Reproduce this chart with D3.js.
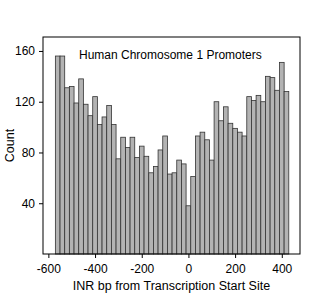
<!DOCTYPE html>
<html><head><meta charset="utf-8">
<script src="https://cdn.jsdelivr.net/npm/d3@7"></script>
<style>body{margin:0;background:#fff}svg{display:block}text{font-family:"Liberation Sans",Arial,sans-serif;fill:#000}</style>
</head><body><svg id="c" width="320" height="302"></svg>
<script>
const binCenters = d3.range(-560, 421, 20);
const counts = [156,156,131,132,119,138,118,109,124,102,108,117,102,75,92,84,92,76,85,77,64,69,82,93,63,64,74,71,38,61,93,96,90,74,120,105,116,103,99,96,93,124,121,125,120,140,139,129,151,128];
const binWidth = 20;
const xTicks = [-600,-400,-200,0,200,400];
const yTicks = [40,80,120,160];
const title = "Human Chromosome 1 Promoters";
const xTitle = "INR bp from Transcription Start Site";
const yTitle = "Count";

const svg = d3.select("#c");
const m = {l:43, r:300, t:37, b:254};
const x = d3.scaleLinear().domain([-623, 478]).range([m.l, m.r]);
const y = d3.scaleLinear().domain([0, 171]).range([m.b, m.t]);

svg.append("g").selectAll("rect").data(binCenters).join("rect")
  .attr("x", (d)=>x(d - binWidth/2))
  .attr("width", (d)=>x(d + binWidth/2) - x(d - binWidth/2))
  .attr("y", (d,i)=>y(counts[i]))
  .attr("height", (d,i)=>y(0) - y(counts[i]))
  .attr("fill", "#b3b3b3").attr("stroke", "#333").attr("stroke-width", 0.8);

svg.append("rect").attr("x", m.l).attr("y", m.t).attr("width", m.r-m.l).attr("height", m.b-m.t)
  .attr("fill","none").attr("stroke","#000").attr("stroke-width",1);

const xa = svg.append("g").attr("transform", `translate(0,${m.b})`)
  .call(d3.axisBottom(x).tickValues(xTicks).tickSize(4).tickPadding(6).tickFormat(d3.format("d")));
const ya = svg.append("g").attr("transform", `translate(${m.l},0)`)
  .call(d3.axisLeft(y).tickValues(yTicks).tickSize(4).tickPadding(4));
[xa, ya].forEach(a => {
  a.select(".domain").remove();
  a.selectAll("line").attr("stroke","#000");
  a.selectAll("text").attr("font-size", 12).attr("font-family", '"Liberation Sans",Arial,sans-serif').attr("fill","#000");
});
xa.selectAll("text").text(d => d < 0 ? "-" + Math.abs(d) : d);

svg.append("text").attr("x", 79).attr("y", 58.5).attr("font-size", 12).text(title);
svg.append("text").attr("x", (m.l+m.r)/2).attr("y", 290).attr("text-anchor","middle").attr("font-size", 12.5).text(xTitle);
svg.append("text").attr("transform", `translate(14,${(m.t+m.b)/2}) rotate(-90)`).attr("text-anchor","middle").attr("font-size", 12.5).text(yTitle);
</script></body></html>
